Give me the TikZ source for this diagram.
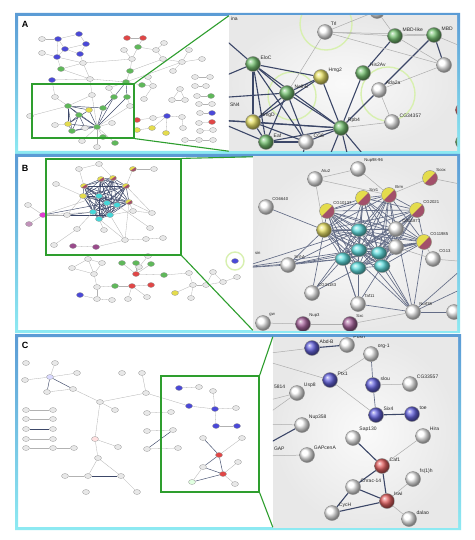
\documentclass[tikz,border=0pt]{standalone}
\usepackage{fontspec}
\setmainfont{Liberation Sans}
\usetikzlibrary{shapes.geometric}

\definecolor{frameblue}{HTML}{5B9BD5}
\definecolor{framecyan}{HTML}{8EEAF2}
\definecolor{zoomgreen}{HTML}{2E9E2E}
\definecolor{halogreen}{HTML}{D8F0B0}
\definecolor{edgedark}{HTML}{3C4768}
\definecolor{sgreen}{HTML}{5FB85A}
\definecolor{syellow}{HTML}{E4DC4C}
\definecolor{sblue}{HTML}{4A48D8}
\definecolor{sred}{HTML}{E04646}
\definecolor{scyan}{HTML}{44D8DA}
\definecolor{spurple}{HTML}{9A4A8C}
\definecolor{sbrown}{HTML}{A2506A}
\definecolor{smagenta}{HTML}{E03CD0}
\definecolor{swhite}{HTML}{E8E8E8}

\pgfdeclarelayer{background}
\pgfdeclarelayer{edges}
\pgfsetlayers{background,edges,main}

\begin{document}
\begin{tikzpicture}[
		x=1pt, y=-1pt,
		ov/.style={ellipse, draw=black!40, line width=0.3pt, minimum width=7pt, minimum height=5pt, inner sep=0pt},
		osplit/.style={ov, fill=syellow, path picture={\fill[sbrown] (path picture bounding box.north east) -- (path picture bounding box.south east) -- (path picture bounding box.south west) -- cycle;}},
		zn/.style={circle, draw=black!45, line width=0.4pt, minimum size=15pt, inner sep=0pt},
		zwhite/.style={zn, ball color=white},
		zgreen/.style={zn, ball color=sgreen!85!white},
		zyellow/.style={zn, ball color=syellow!85!white},
		zblue/.style={zn, ball color=sblue!85!white},
		zred/.style={zn, ball color=sred!85!white},
		zcyan/.style={zn, ball color=scyan!85!white, minimum width=16pt, minimum height=13pt, ellipse},
		zpurp/.style={zn, ball color=spurple!85!white},
		zsplit/.style={zn, fill=syellow, path picture={\fill[sbrown] (path picture bounding box.north east) -- (path picture bounding box.south east) -- (path picture bounding box.south west) -- cycle;}},
		zl/.style={font=\fontsize{5}{6}\selectfont, inner sep=0.8pt, text=black!85},
		zls/.style={font=\fontsize{4.2}{5}\selectfont, inner sep=0.8pt, text=black!85},
		strong/.style={edgedark, line width=1.1pt},
		mid/.style={edgedark!80, line width=0.65pt},
		weak/.style={black!32, line width=0.5pt},
		ostrong/.style={edgedark, line width=0.45pt},
		oweak/.style={black!30, line width=0.3pt},
		zoombox/.style={draw=zoomgreen, line width=1.2pt, inner sep=0pt},
		zoomline/.style={zoomgreen, line width=1.1pt},
		view/.style={inner sep=0pt, inner color=gray!4, outer color=gray!18},
		halo/.style={draw=halogreen, line width=1.4pt},
		plabel/.style={font=\bfseries\fontsize{9}{10}\selectfont}
	]

	\useasboundingbox (0,0) rectangle (474,540);

	% frames and zoomed views
	\begin{pgfonlayer}{background}
	\fill[white] (0,0) rectangle (474,540);
	\shade[top color=frameblue, bottom color=framecyan, even odd rule] (15,13) rectangle (460,154) (18,16) rectangle (457,151);
	\shade[top color=frameblue, bottom color=framecyan, even odd rule] (15,154) rectangle (460,333) (18,157) rectangle (457,330);
	\shade[top color=frameblue, bottom color=framecyan, even odd rule] (15,334) rectangle (461,530) (18,337) rectangle (458,527);
	\node[view, minimum width=228, minimum height=135] (viewa) at (343,83.5) {};
	\node[view, minimum width=204, minimum height=173] (viewb) at (355,243.5) {};
	\node[view, minimum width=185, minimum height=190] (viewc) at (365.5,432) {};
	\end{pgfonlayer}

	\node[plabel] (laba) at (25,24) {A};
	\node[plabel] (labb) at (25,168) {B};
	\node[plabel] (labc) at (25,345) {C};

	% ---------- A : overview ----------
	\foreach \n/\x/\y/\c in {a1/58/39/sblue, a2/79/34/sblue, a3/65/49/sblue, a4/86/44/sblue, a5/80/54/sblue, a6/57/57/sblue, a7/52/80/sblue, a8/42/39/swhite, a9/42/53/swhite, a10/61/69/sgreen, a11/83/63/swhite, a12/90/79/swhite, a13/127/38/sred, a14/143/38/sred, a15/138/47/sgreen, a16/124/50/swhite, a17/132/59/swhite, a18/130/71/sgreen, a19/126/82/sgreen, a20/142/85/sgreen, a21/164/43/swhite, a22/156/50/swhite, a23/163/59/swhite, a24/189/50/swhite, a25/182/62/swhite, a26/173/71/swhite, a27/202/59/swhite, a28/148/77/swhite, a29/153/86/swhite, a30/144/99/swhite, a31/55/97/swhite, a32/92/95/swhite, a33/109/88/swhite, a34/114/97/sgreen, a35/127/97/sgreen, a36/103/108/sgreen, a37/68/106/sgreen, a38/79/115/sgreen, a39/89/110/syellow, a40/97/127/sgreen, a41/72/131/sgreen, a42/68/124/syellow, a43/55/125/swhite, a44/30/116/swhite, a45/130/106/swhite, a46/112/123/swhite, a47/85/128/swhite, a48/82/141/swhite, a49/97/147/swhite, a50/103/137/sgreen, a51/115/143/sgreen, a52/137/120/sred, a53/137/130/syellow, a54/152/128/syellow, a55/153/118/swhite, a56/167/116/sblue, a57/166/133/syellow, a58/182/117/swhite, a59/183/128/swhite, a60/180/89/swhite, a61/172/100/swhite, a62/185/100/swhite, a63/195/77/swhite, a64/210/77/swhite, a65/195/86/swhite, a66/206/86/swhite, a67/197/96/swhite, a68/211/96/sgreen, a69/199/104/swhite, a70/212/104/swhite, a71/200/113/swhite, a72/212/113/sblue, a73/199/123/swhite, a74/212/122/sred, a75/200/131/swhite, a76/213/130/swhite, a77/185/140/swhite, a78/199/140/swhite, a79/213/140/swhite}
		\node[ov, fill=\c] (\n) at (\x,\y) {};

	\begin{pgfonlayer}{edges}
	\foreach \a/\b in {a8/a1, a1/a2, a1/a3, a2/a4, a3/a4, a3/a5, a4/a5, a1/a6, a3/a6, a6/a10, a9/a6, a6/a11, a11/a10, a10/a12, a11/a12, a11/a17, a5/a11, a12/a19, a7/a12, a7/a31, a13/a14, a14/a15, a15/a17, a16/a17, a17/a18, a18/a19, a19/a20, a15/a22, a22/a21, a22/a23, a23/a25, a24/a25, a25/a26, a25/a27, a19/a25, a18/a23, a31/a37, a37/a44, a32/a37, a32/a40, a33/a34, a40/a46, a40/a48, a40/a49, a40/a50, a40/a51, a40/a45, a35/a45, a42/a43, a12/a32, a19/a33, a20/a29, a28/a29, a29/a30, a52/a55, a53/a54, a54/a56, a55/a56, a56/a57, a56/a58, a58/a59, a60/a61, a60/a62, a61/a62, a63/a64, a65/a66, a67/a68, a69/a70, a71/a72, a73/a74, a75/a76, a77/a78, a78/a79}
		\draw[oweak] (\a) -- (\b);
	\foreach \a/\b in {a37/a38, a37/a39, a37/a40, a37/a41, a37/a42, a38/a40, a38/a42, a38/a41, a39/a40, a36/a40, a40/a41, a40/a42, a41/a42, a47/a41, a47/a38, a40/a47, a35/a40, a34/a40, a36/a34, a19/a35, a19/a34, a37/a36, a39/a42}
		\draw[ostrong] (\a) -- (\b);
	\end{pgfonlayer}

	\node[zoombox, minimum width=102, minimum height=54] (boxa) at (83,111) {};
	\draw[zoomline] (boxa.north east) -- (viewa.north west);
	\draw[zoomline] (boxa.south east) -- (viewa.south west);

	% ---------- A : zoomed view ----------
	\begin{scope}
	\clip (viewa.south west) rectangle (viewa.north east);
	\node[zwhite, label={[zl]50:Trl}] (trl) at (325,32) {};
	\node[zgreen, label={[zl]30:MBD-like}] (mbdl) at (395,36) {};
	\node[zgreen, label={[zl]30:MBD}] (mbd) at (434,35) {};
	\node[zwhite] (rnd) at (444,65) {};
	\node[zwhite] (topw) at (377,11) {};
	\node[zgreen, label={[zl]30:EloC}] (eloc) at (253,64) {};
	\node[zyellow, label={[zl]30:Hmg2}] (hmg2) at (321,77) {};
	\node[zgreen, label={[zl]40:His2Av}] (his2av) at (363,73) {};
	\node[zgreen, label={[zl]30:Nelf-E}] (nelfe) at (287,93) {};
	\node[zwhite, label={[zl]40:Ada2a}] (ada2a) at (379,90) {};
	\node[zyellow, label={[zl]30:HmgD}] (hmgd) at (253,122) {};
	\node[zwhite, label={[zl]30:CG34357}] (cg34357) at (392,122) {};
	\node[zgreen, label={[zl]40:Rpb4}] (rpb4) at (341,128) {};
	\node[zgreen, label={[zl]30:Eaf}] (eaf) at (266,142) {};
	\node[zwhite, label={[zl]30:CG6}] (cg6) at (306,142) {};
	\node[zred] (redr) at (463,110) {};
	\node[zgreen] (greenr) at (463,142) {};
	\node[zwhite] (ina) at (214,30) {};
	\node[zyellow] (sn4) at (214,120) {};
	\node[zl, anchor=south west] (inal) at (230,22) {ina};
	\node[zl, anchor=south west] (sn4l) at (229,108) {SN4};
	\coordinate (offl1) at (215,80);
	\coordinate (offl2) at (215,98);
	\coordinate (offb1) at (326,165);
	\coordinate (offb2) at (350,165);
	\coordinate (offb3) at (372,165);
	\coordinate (offb4) at (300,165);
	\coordinate (offr) at (470,50);
	\end{scope}

	\begin{pgfonlayer}{edges}
	\begin{scope}
	\clip (viewa.south west) rectangle (viewa.north east);
	\draw[halo] (326,24) circle (26);
	\draw[halo] (292,96) circle (24);
	\draw[halo] (388,94) circle (27);
	\foreach \a/\b in {eloc/nelfe, eloc/hmgd, eloc/eaf, eloc/rpb4, eloc/cg6, eloc/hmg2, nelfe/hmgd, nelfe/eaf, nelfe/cg6, nelfe/rpb4, nelfe/hmg2, hmgd/eaf, hmgd/cg6, hmgd/rpb4, eaf/cg6, eaf/rpb4, cg6/rpb4, hmg2/rpb4, hmg2/hmgd, rpb4/his2av, rpb4/ada2a, ada2a/mbd, his2av/mbdl, mbd/rnd, sn4/hmgd, sn4/rpb4, sn4/eaf, ina/eloc, offl1/eloc, offl2/nelfe, rpb4/offb1, rpb4/offb2, rpb4/offb3, cg6/offb4}
		\draw[strong] (\a) -- (\b);
	\foreach \a/\b in {trl/nelfe, trl/mbdl, trl/rnd, trl/mbd, trl/topw, ada2a/rnd, ada2a/cg34357, rpb4/cg34357, mbdl/rnd, mbdl/topw, mbd/offr, mbdl/mbd}
		\draw[weak] (\a) -- (\b);
	\end{scope}
	\end{pgfonlayer}

	% ---------- B : overview ----------
	\foreach \n/\x/\y in {b1/133/169, b2/101/179, b3/113/178, b4/126/186, b5/84/186, b6/129/202}
		\node[osplit] (\n) at (\x,\y) {};
	\foreach \n/\x/\y/\c in {b7/83/196/syellow, b8/99/196/scyan, b9/107/203/scyan, b10/93/212/scyan, b11/99/219/scyan, b12/110/215/scyan, b13/117/205/scyan, b14/79/169/swhite, b15/99/164/swhite, b16/154/169/swhite, b17/56/184/swhite, b18/133/211/swhite, b19/152/213/swhite, b20/67/215/swhite, b21/77/229/swhite, b22/104/230/swhite, b23/125/240/swhite, b24/150/228/swhite, b25/146/239/swhite, b26/163/238/swhite, b27/54/245/swhite, b28/28/205/swhite, b29/43/215/smagenta, b30/29/224/spurple!60, b31/73/246/spurple, b32/96/247/spurple, b33/88/259/swhite, b34/72/268/swhite, b35/94/274/swhite, b36/102/263/swhite, b37/148/256/swhite, b38/97/287/swhite, b39/97/299/swhite, b40/112/300/swhite, b41/128/299/swhite, b42/147/297/swhite, b43/139/267/swhite, b44/189/273/swhite, b45/193/285/swhite, b46/206/285/swhite, b47/191/298/swhite, b48/213/272/swhite, b49/223/282/swhite, b50/237/277/swhite, b51/122/263/sgreen, b52/136/263/sgreen, b53/151/264/sgreen, b54/164/275/sgreen, b55/115/286/sgreen, b56/136/274/sred, b57/132/286/sred, b58/151/285/sred, b59/80/295/sblue, b60/235/261/sblue, b61/175/293/syellow}
		\node[ov, fill=\c] (\n) at (\x,\y) {};

	\begin{pgfonlayer}{edges}
	\foreach \i in {2,...,13}
		\foreach \j in {2,...,13}
			{\ifnum\i<\j \draw[ostrong] (b\i) -- (b\j); \fi}
	\foreach \a/\b in {b29/b9, b20/b10, b29/b12}
		\draw[ostrong] (\a) -- (\b);
	\foreach \a/\b in {b14/b15, b15/b3, b14/b5, b16/b1, b1/b4, b17/b7, b7/b20, b20/b29, b29/b28, b29/b30, b29/b8, b29/b10, b10/b21, b11/b22, b11/b23, b12/b23, b6/b23, b13/b24, b25/b26, b23/b25, b4/b19, b6/b19, b18/b19, b31/b32, b32/b23, b18/b12, b18/b6, b27/b21, b33/b34, b33/b36, b34/b35, b35/b36, b33/b35, b35/b38, b38/b55, b55/b57, b57/b58, b38/b39, b39/b40, b39/b59, b41/b57, b42/b57, b52/b56, b56/b43, b43/b37, b56/b54, b54/b44, b44/b45, b45/b46, b46/b48, b48/b49, b49/b50, b45/b47, b45/b61, b46/b49, b51/b56, b53/b56}
		\draw[oweak] (\a) -- (\b);
	\draw[halo] (b60) circle (9);
	\end{pgfonlayer}

	\node[zoombox, minimum width=135, minimum height=96] (boxb) at (113.5,207) {};
	\draw[zoomline] (boxb.north east) -- (viewb.north west);
	\draw[zoomline] (boxb.south east) -- (viewb.south west);

	% ---------- B : zoomed view ----------
	\begin{scope}
	\clip (viewb.south west) rectangle (viewb.north east);
	\node[zwhite, label={[zls]45:Nup98-96}] (nup98) at (358,169) {};
	\node[zwhite, label={[zls]45:Atu2}] (atu2) at (315,179) {};
	\node[zsplit, label={[zls]45:Snr1}] (snr1) at (363,198) {};
	\node[zsplit, label={[zls]45:Brm}] (brm) at (389,195) {};
	\node[zsplit, label={[zls]45:Scox}] (scox) at (430,178) {};
	\node[zsplit, label={[zls]45:CG2021}] (cg2021) at (417,210) {};
	\node[zsplit, label={[zls]45:CG10137}] (cg10) at (327,211) {};
	\node[zyellow] (ylw) at (324,230) {};
	\node[zwhite, label={[zls]45:CG11877}] (cg11877) at (396,229) {};
	\node[zsplit, label={[zls]45:CG11985}] (cg11985) at (424,242) {};
	\node[zcyan] (cy1) at (359,230) {};
	\node[zcyan] (cy2) at (359,250) {};
	\node[zcyan] (cy3) at (379,253) {};
	\node[zcyan] (cy4) at (343,259) {};
	\node[zcyan] (cy5) at (358,268) {};
	\node[zcyan] (cy6) at (382,266) {};
	\node[zwhite] (w247) at (396,247) {};
	\node[zwhite, label={[zls]45:CG13}] (cg13) at (433,259) {};
	\node[zwhite, label={[zls]45:Snf-A}] (snfa) at (288,265) {};
	\node[zwhite, label={[zls]45:CG31183}] (cg31183) at (312,293) {};
	\node[zwhite, label={[zls]45:Taf11}] (taf11) at (358,304) {};
	\node[zwhite, label={[zls]45:Nurf38}] (nurf) at (413,312) {};
	\node[zwhite] (wr) at (454,312) {};
	\node[zwhite, label={[zls]45:gw}] (gw) at (263,323) {};
	\node[zpurp, label={[zls]45:Nup3}] (nup3) at (303,324) {};
	\node[zpurp, label={[zls]45:Sxc}] (sxc) at (350,324) {};
	\node[zwhite, label={[zls]45:CG6640}] (cg6640) at (266,207) {};
	\node[zwhite] (sinn) at (240,268) {};
	\node[zls, anchor=south west] (sinl) at (254,256) {sin};
	\coordinate (offr1) at (470,186);
	\coordinate (offr2) at (470,262);
	\coordinate (offr3) at (470,285);
	\end{scope}

	\begin{pgfonlayer}{edges}
	\begin{scope}
	\clip (viewb.south west) rectangle (viewb.north east);
	\foreach \a/\i in {snr1/1, brm/2, cg10/3, ylw/4, cg2021/5, cg11877/6, cg11985/7, cy1/8, cy2/9, cy3/10, cy4/11, cy5/12, cy6/13, w247/14}
		\foreach \b/\j in {snr1/1, brm/2, cg10/3, ylw/4, cg2021/5, cg11877/6, cg11985/7, cy1/8, cy2/9, cy3/10, cy4/11, cy5/12, cy6/13, w247/14}
			{\ifnum\i<\j \draw[mid] (\a) -- (\b); \fi}
	\foreach \a/\b in {cg6640/ylw, sinn/snfa, sinn/cy4, sinn/cy2, sinn/cy1, snfa/cy4, snfa/cy2, snfa/cy1, snfa/cg11985, snfa/ylw, cg31183/ylw, cg31183/cy4, cg31183/cy5, cg31183/cy1, taf11/cy5, taf11/cy4, taf11/cy6, taf11/cg10, taf11/nurf, nurf/cy3, nurf/cy6, nurf/cg11985, nurf/ylw, nurf/cy2, nurf/cg11877, nurf/wr, nurf/offr3, nurf/offr2}
		\draw[mid] (\a) -- (\b);
	\foreach \a/\b in {atu2/nup98, atu2/brm, atu2/ylw, nup98/brm, scox/brm, scox/offr1, gw/nup3, nup3/sxc, cg11985/cg13, cg13/w247, cg13/offr2, sxc/nurf}
		\draw[weak] (\a) -- (\b);
	\end{scope}
	\end{pgfonlayer}

	% ---------- C : overview ----------
	\foreach \n/\x/\y/\c in {c1/26/363/swhite, c2/55/363/swhite, c3/25/380/swhite, c4/50/377/blue!15, c5/77/373/swhite, c6/47/392/swhite, c7/73/389/swhite, c8/100/402/swhite, c9/115/410/swhite, c10/122/373/swhite, c11/142/373/swhite, c12/146/393/swhite, c13/26/410/swhite, c14/53/410/swhite, c15/26/419/swhite, c16/53/419/swhite, c17/26/429/swhite, c18/53/429/swhite, c19/26/439/swhite, c20/53/439/swhite, c21/26/448/swhite, c22/53/448/swhite, c23/74/448/swhite, c24/95/439/red!12, c25/118/447/swhite, c26/98/458/swhite, c27/88/476/swhite, c28/65/476/swhite, c29/121/476/swhite, c30/86/492/swhite, c31/137/492/swhite, c32/147/413/swhite, c33/171/412/swhite, c34/147/431/swhite, c35/147/449/swhite, c36/173/430/swhite, c37/178/448/swhite, c38/179/388/sblue, c39/189/406/sblue, c40/215/409/sblue, c41/216/426/sblue, c42/237/426/sblue, c43/199/387/swhite, c44/213/391/swhite, c45/236/408/swhite, c46/203/438/swhite, c47/242/438/swhite, c48/238/462/swhite, c49/203/467/swhite, c50/192/482/green!12, c51/235/484/swhite, c52/219/455/sred, c53/223/474/sred}
		\node[ov, fill=\c] (\n) at (\x,\y) {};

	\begin{pgfonlayer}{edges}
	\foreach \a/\b in {c2/c4, c3/c4, c4/c5, c6/c7, c7/c8, c8/c9, c8/c12, c11/c12, c12/c39, c38/c43, c39/c40, c40/c44, c40/c41, c41/c42, c40/c45, c8/c24, c24/c26, c26/c27, c26/c29, c29/c31, c13/c14, c15/c16, c19/c20, c21/c22, c22/c23, c32/c33, c35/c37, c47/c52, c49/c50, c53/c51, c48/c53, c25/c24, c28/c27, c34/c36}
		\draw[oweak] (\a) -- (\b);
	\foreach \a/\b in {c4/c6, c4/c7, c17/c18, c35/c36, c27/c29, c46/c52, c52/c49, c52/c53, c49/c53, c50/c53}
		\draw[ostrong] (\a) -- (\b);
	\end{pgfonlayer}

	\node[zoombox, minimum width=98, minimum height=116] (boxc) at (210,434) {};
	\draw[zoomline] (boxc.north east) -- (viewc.north west);
	\draw[zoomline] (boxc.south east) -- (viewc.south west);

	% ---------- C : zoomed view ----------
	\begin{scope}
	\clip (viewc.south west) rectangle (viewc.north east);
	\node[zblue, label={[zl]30:Abd-B}] (abdb) at (312,348) {};
	\node[zwhite, label={[zl]45:Poxn}] (poxn) at (347,345) {};
	\node[zwhite, label={[zl]40:org-1}] (org1) at (371,354) {};
	\node[zblue, label={[zl]30:Ptx1}] (ptx1) at (330,380) {};
	\node[zblue, label={[zl]30:slou}] (slou) at (373,385) {};
	\node[zwhite, label={[zl]40:CG33557}] (cg33557) at (410,384) {};
	\node[zwhite, label={[zl]40:Usp8}] (usp8) at (297,393) {};
	\node[zblue, label={[zl]30:Six4}] (six4) at (376,415) {};
	\node[zblue, label={[zl]30:toe}] (toe) at (412,414) {};
	\node[zwhite, label={[zl]40:Nup358}] (nup358) at (302,425) {};
	\node[zwhite, label={[zl]45:Sap130}] (sap130) at (353,438) {};
	\node[zwhite, label={[zl]40:Hira}] (hira) at (423,436) {};
	\node[zwhite, label={[zl]40:GAPcenA}] (gapcena) at (307,455) {};
	\node[zred, label={[zl]30:Caf1}] (caf1) at (382,466) {};
	\node[zwhite, label={[zl]30:Chrac-14}] (chrac14) at (353,487) {};
	\node[zwhite, label={[zl]40:fs(1)h}] (fs1h) at (413,479) {};
	\node[zred, label={[zl]40:Iswi}] (iswi) at (387,501) {};
	\node[zwhite, label={[zl]40:CycH}] (cych) at (332,513) {};
	\node[zwhite, label={[zl]30:dalao}] (dalao) at (409,519) {};
	\node[zl, anchor=west] (l5814) at (273,387) {5814};
	\node[zl, anchor=west] (lgap) at (273,449) {GAP};
	\coordinate (offc1) at (262,354);
	\coordinate (offc2) at (262,360);
	\coordinate (offc3) at (262,402);
	\coordinate (offc4) at (262,418);
	\coordinate (offc5) at (262,424);
	\coordinate (offc6) at (262,447);
	\coordinate (offc7) at (262,456);
	\end{scope}

	\begin{pgfonlayer}{edges}
	\begin{scope}
	\clip (viewc.south west) rectangle (viewc.north east);
	\foreach \a/\b in {abdb/poxn, six4/toe, sap130/caf1, caf1/chrac14, caf1/iswi, chrac14/iswi, chrac14/cych, cych/iswi, nup358/offc6}
		\draw[strong] (\a) -- (\b);
	\foreach \a/\b in {org1/slou, slou/six4}
		\draw[mid] (\a) -- (\b);
	\foreach \a/\b in {abdb/offc1, ptx1/offc2, ptx1/six4, ptx1/org1, slou/cg33557, usp8/offc3, usp8/offc4, nup358/offc5, gapcena/offc7, hira/caf1, fs1h/iswi, iswi/dalao}
		\draw[weak] (\a) -- (\b);
	\end{scope}
	\end{pgfonlayer}
\end{tikzpicture}
\end{document}
